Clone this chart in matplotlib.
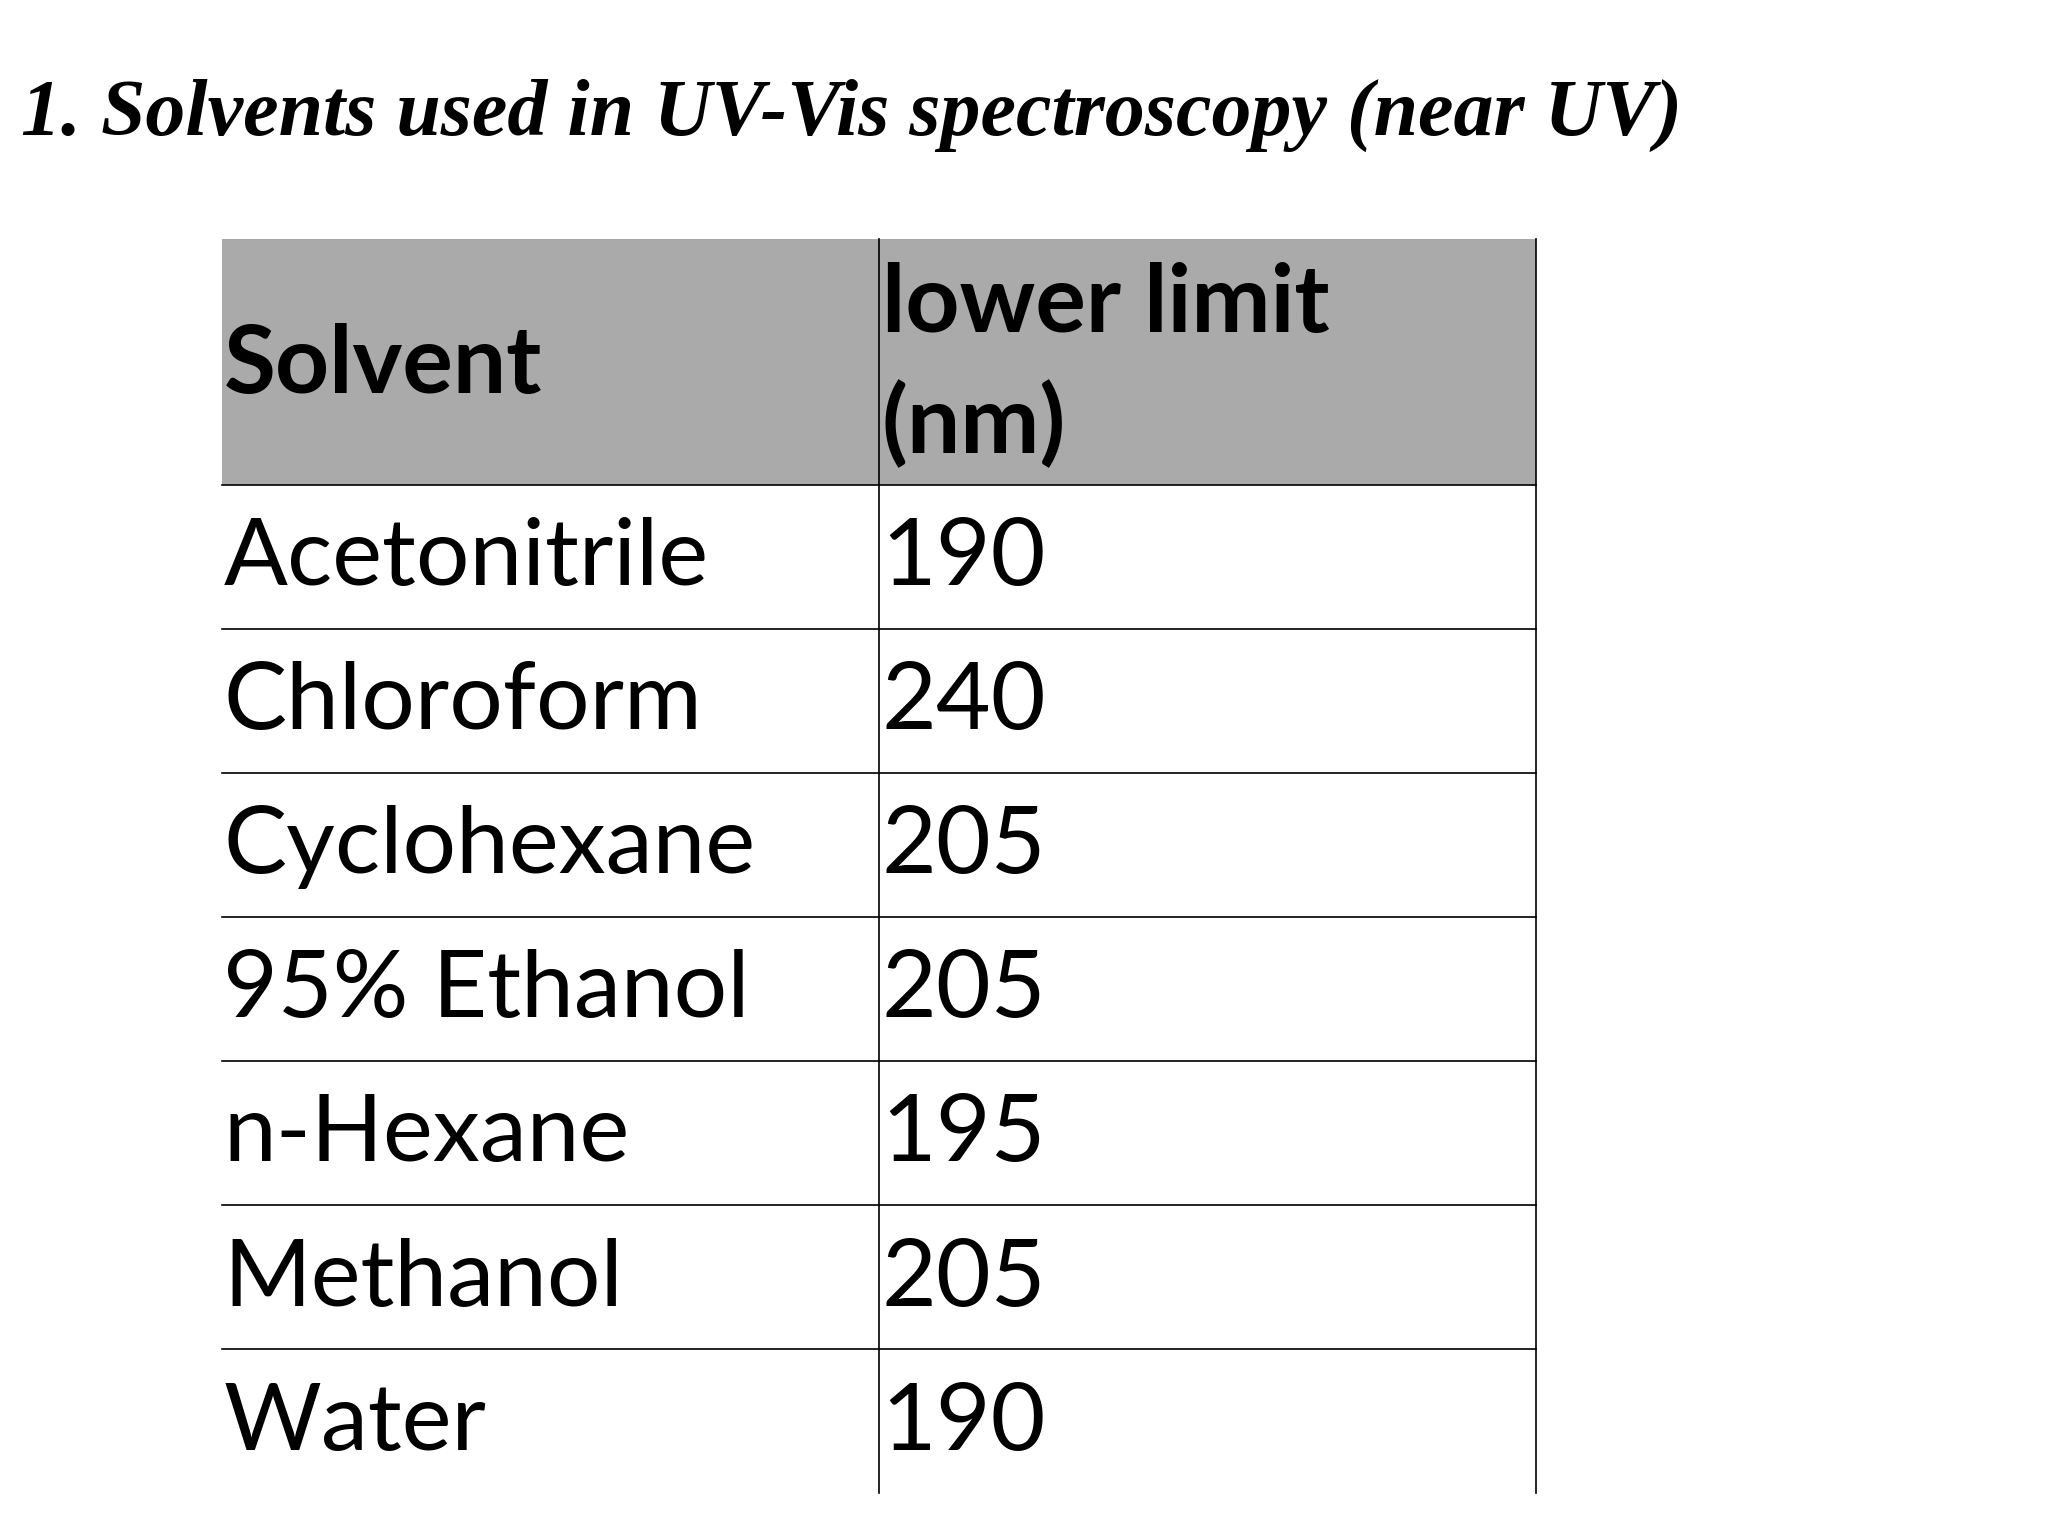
import matplotlib.pyplot as plt
from matplotlib.patches import Rectangle

# ── 資料 ──────────────────────────────────────────────
title = '1. Solvents used in UV-Vis spectroscopy (near UV)'
headers = ['Solvent', 'lower limit\n(nm)']
solvents = ['Acetonitrile', 'Chloroform', 'Cyclohexane', '95% Ethanol',
            'n-Hexane', 'Methanol', 'Water']
lower_limits = [190, 240, 205, 205, 195, 205, 190]

# ── 版面 ─────────────────────────────────────────────
W, H = 1568, 1176
x_left, x_mid, x_right = 170, 673, 1176
y_top, y_head = 183, 371
row_h = 110.3

fig = plt.figure(figsize=(20.48, 15.36), dpi=100)
ax = fig.add_axes([0, 0, 1, 1])
ax.set_xlim(0, W)
ax.set_ylim(H, 0)
ax.axis('off')

ax.text(16, 88, title, fontsize=57.5, fontstyle='italic', fontweight='bold',
        family='Liberation Serif', va='center', ha='left')

ax.add_patch(Rectangle((x_left, y_top), x_right - x_left, y_head - y_top,
                       facecolor='#aaaaaa', edgecolor='none'))

y_bottom = y_head + row_h * len(solvents)
ax.plot([x_mid, x_mid], [y_top, y_bottom], color='black', lw=1.2)
ax.plot([x_right, x_right], [y_top, y_bottom], color='black', lw=1.2)
for i in range(len(solvents)):
    y = y_head + row_h * i
    ax.plot([x_left, x_right], [y, y], color='black', lw=1.2)

font = 'Lato'
ax.text(x_left + 1, (y_top + y_head) / 2 + 3, headers[0], fontsize=68,
        fontweight='bold', family=font, va='center')
ax.text(x_mid + 2, (y_top + y_head) / 2 + 3, headers[1], fontsize=68,
        fontweight='bold', family=font, va='center', linespacing=1.45)

for i, (s, v) in enumerate(zip(solvents, lower_limits)):
    yc = y_head + row_h * (i + 0.5) + 2
    ax.text(x_left + 1, yc, s, fontsize=68, family=font, va='center')
    ax.text(x_mid + 2, yc, str(v), fontsize=68, family=font, va='center')

fig.savefig('out.png', dpi=100, facecolor='white')
